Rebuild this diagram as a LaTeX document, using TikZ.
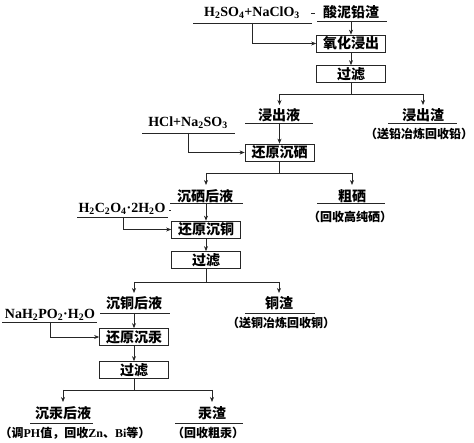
\documentclass[tikz,border=0pt]{standalone}
\usepackage{fontspec}
\setmainfont{Liberation Serif}[BoldFont={* Bold}]
\newfontfamily\cjk{Noto Sans CJK SC}
\usetikzlibrary{arrows.meta}
\tikzset{
 line/.style={line width=0.7pt, draw=black!85},
 box/.style={line, draw, minimum width=69pt, minimum height=17pt, inner sep=0pt, font=\cjk\bfseries\fontsize{14}{15}\selectfont},
 lbl/.style={inner sep=0pt, font=\cjk\bfseries\fontsize{14}{15}\selectfont},
 chem/.style={inner sep=0pt, font=\bfseries\fontsize{14}{15}\selectfont},
 note/.style={inner sep=0pt, font=\cjk\bfseries\fontsize{12}{13}\selectfont},
 conn/.style={line, -{Stealth[length=5pt,width=4pt]}},
}
\begin{document}
\begin{tikzpicture}[x=1pt,y=-1pt]
\useasboundingbox (0,0) rectangle (474,443);
% boxes
\node[box] (b1) at (351,43.5) {氧化浸出};
\node[box] (b2) at (351,74) {过滤};
\node[box] (b3) at (279.5,152.5) {还原沉硒};
\node[box] (b4) at (206,229.5) {还原沉铜};
\node[box] (b5) at (206,260) {过滤};
\node[box] (b6) at (134,337) {还原沉汞};
\node[box] (b7) at (134,370) {过滤};
% labels
\node[chem] (t0) at (252,13) {H\textsubscript{2}SO\textsubscript{4}+NaClO\textsubscript{3}};
\node[lbl] (t1) at (351,12) {酸泥铅渣};
\node[lbl] (t2) at (279,115) {浸出液};
\node[lbl] (t3) at (423,115) {浸出渣};
\node[note] (n3) at (419,134) {（送铅冶炼回收铅）};
\node[chem] (t4) at (188,123) {HCl+Na\textsubscript{2}SO\textsubscript{3}};
\node[lbl] (t5) at (205,196) {沉硒后液};
\node[lbl] (t6) at (352,196) {粗硒};
\node[note] (n6) at (350,217) {（回收高纯硒）};
\node[chem] (t7) at (122,209) {H\textsubscript{2}C\textsubscript{2}O\textsubscript{4}·2H\textsubscript{2}O};
\node[lbl] (t8) at (134,303) {沉铜后液};
\node[lbl] (t9) at (279,303) {铜渣};
\node[note] (n9) at (281,323) {（送铜冶炼回收铜）};
\node[chem] (t10) at (50,315) {NaH\textsubscript{2}PO\textsubscript{2}·H\textsubscript{2}O};
\node[lbl] (t11) at (63,413) {沉汞后液};
\node[note] (n11) at (75,433) {（调{\rmfamily PH}值，回收{\rmfamily Zn}、{\rmfamily Bi}等）};
\node[lbl] (t12) at (212,413) {汞渣};
\node[note] (n12) at (208,433) {（回收粗汞）};
% underlines
\draw[line] (193,23) -- (312,23);
\draw[line] (317,21) -- (387,21);
\draw[line] (245,123) -- (313,123);
\draw[line] (388,123) -- (457,123);
\draw[line] (142,133) -- (235,133);
\draw[line] (170,203) -- (243,203);
\draw[line] (317,203) -- (385,203);
\draw[line] (77,217) -- (168,217);
\draw[line] (100,313) -- (170,313);
\draw[line] (245,313) -- (315,313);
\draw[line] (2,322) -- (97,322);
\draw[line] (30,423) -- (93,423);
\draw[line] (175,423) -- (243,423);
% small dashes
\draw[line] (311,13) -- (315,13);
\draw[line] (169,210) -- (171,210);
% coordinates
\coordinate (u0) at (252,23);
\coordinate (u1) at (351,21);
\coordinate (u2) at (279.5,123);
\coordinate (u4) at (188,133);
\coordinate (u5) at (206,203);
\coordinate (u7) at (123,217);
\coordinate (u8) at (134,313);
\coordinate (u10) at (50,322);
\coordinate (s1) at (351,94);
\coordinate (s2) at (279.5,94);
\coordinate (s3) at (423,94);
\coordinate (r1) at (279.5,173);
\coordinate (r2) at (206,173);
\coordinate (r3) at (352,173);
\coordinate (c1) at (206,282);
\coordinate (c2) at (134,282);
\coordinate (c3) at (279,282);
\coordinate (h1) at (134,390);
\coordinate (h2) at (63,390);
\coordinate (h3) at (212,390);
% connectors
\draw[conn] (u1) -- (b1.north);
\draw[conn] (u0) |- (b1.west);
\draw[conn] (b1) -- (b2);
\draw[line] (b2.south) -- (s1);
\draw[line] (s2) -- (s3);
\draw[conn] (s2) -- (279.5,105);
\draw[conn] (s3) -- (423,105);
\draw[conn] (u2) -- (b3.north);
\draw[conn] (u4) |- (b3.west);
\draw[line] (b3.south) -- (r1);
\draw[line] (r2) -- (r3);
\draw[conn] (r2) -- (206,185);
\draw[conn] (r3) -- (352,185);
\draw[conn] (u5) -- (b4.north);
\draw[conn] (u7) |- (b4.west);
\draw[conn] (b4) -- (b5);
\draw[line] (b5.south) -- (c1);
\draw[line] (c2) -- (c3);
\draw[conn] (c2) -- (134,293);
\draw[conn] (c3) -- (279,293);
\draw[conn] (u8) -- (b6.north);
\draw[conn] (u10) |- (b6.west);
\draw[conn] (b6) -- (b7);
\draw[line] (b7.south) -- (h1);
\draw[line] (h2) -- (h3);
\draw[conn] (h2) -- (63,402);
\draw[conn] (h3) -- (212,402);
\end{tikzpicture}
\end{document}
